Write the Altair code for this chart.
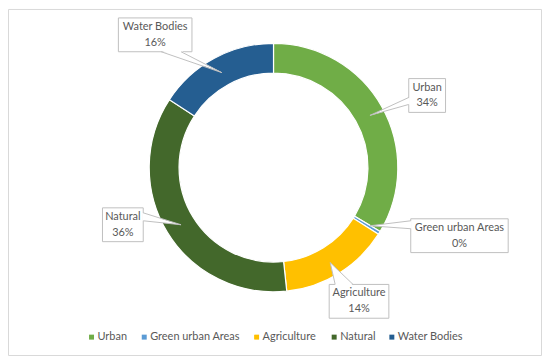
import altair as alt
import pandas as pd

# ---- data ----
categories = ["Urban", "Green urban Areas", "Agriculture", "Natural", "Water Bodies"]
shares = [33.6, 0.4, 14.3, 35.9, 15.8]
colors = ["#70AD47", "#5B9BD5", "#FFC000", "#43682B", "#255E91"]

# ---- label layout (page pixels) ----
O = 8
box_x0 = [411, 413, 331, 103, 119]
box_x1 = [448, 511, 391, 144, 193]
box_y0 = [78, 219, 285, 208, 17]
box_y1 = [112, 253, 319, 242, 51]
tip_x = [372, 372, 332, 182, 223]
tip_y = [115, 226, 263, 225, 72]
base_side = ["left", "left", "top", "right", "bottom"]
base_a = [97, 221, 337, 213, 162]
base_b = [104, 229, 355, 221, 182]
# legend layout (page pixels): marker centers
legend_x = [92, 145, 258, 336, 394]
legend_y = 338

W, H = 537, 349
CX, CY = 275 - O, 167.5 - O
TXT = "#595959"
FONT = "Lato"
FS = 11
LH = 16

pie = pd.DataFrame({"cat": categories, "share": shares, "ord": list(range(len(categories)))})

labels = pd.DataFrame({
    "cat": categories,
    "x0": [v - O for v in box_x0], "x1": [v - O for v in box_x1],
    "y0": [v - O for v in box_y0], "y1": [v - O for v in box_y1],
})
labels["cx"] = (labels.x0 + labels.x1) / 2
labels["cy"] = (labels.y0 + labels.y1) / 2 - LH / 2
labels["txt"] = [f"{c}\n{round(s):.0f}%" for c, s in zip(categories, shares)]

vert_rows, horiz_rows, rule_rows = [], [], []
for i, c in enumerate(categories):
    tx, ty = tip_x[i] - O, tip_y[i] - O
    a, b = base_a[i] - O, base_b[i] - O
    side = base_side[i]
    if side in ("left", "right"):
        edge = (box_x0[i] if side == "left" else box_x1[i]) - O
        inner = edge + (1 if side == "left" else -1)
        vert_rows += [{"g": c, "x": tx, "y": ty, "y2": ty}, {"g": c, "x": inner, "y": a, "y2": b}]
        rule_rows += [{"x": tx, "y": ty, "x2": edge, "y2": a}, {"x": tx, "y": ty, "x2": edge, "y2": b}]
    else:
        edge = (box_y0[i] if side == "top" else box_y1[i]) - O
        inner = edge + (1 if side == "top" else -1)
        horiz_rows += [{"g": c, "y": ty, "x": tx, "x2": tx}, {"g": c, "y": inner, "x": a, "x2": b}]
        rule_rows += [{"x": tx, "y": ty, "x2": a, "y2": edge}, {"x": tx, "y": ty, "x2": b, "y2": edge}]

vert = pd.DataFrame(vert_rows)
horiz = pd.DataFrame(horiz_rows)
rules = pd.DataFrame(rule_rows)
leg = pd.DataFrame({"cat": categories, "lx": [v - O for v in legend_x], "ly": [legend_y - O] * len(categories)})
leg["tx"] = leg.lx + 6

px = lambda f: alt.X(f, type="quantitative", scale=None, axis=None)
py = lambda f: alt.Y(f, type="quantitative", scale=None, axis=None)
cscale = alt.Scale(domain=categories, range=colors)

arcs = alt.Chart(pie).mark_arc(outerRadius=125, innerRadius=95, stroke="white", strokeWidth=1.2).encode(
    theta=alt.Theta("share:Q", stack=True),
    order=alt.Order("ord:Q"),
    color=alt.Color("cat:N", sort=categories, scale=cscale, legend=None),
    x=alt.value(CX), y=alt.value(CY),
)

boxes = alt.Chart(labels).mark_rect(fill="white", stroke="#BFBFBF", strokeWidth=1).encode(
    x=px("x0"), x2="x1", y=py("y0"), y2="y1")

tri_v = alt.Chart(vert).mark_area(fill="white", orient="vertical").encode(
    x=px("x"), y=py("y"), y2="y2", detail="g:N")
tri_h = alt.Chart(horiz).mark_area(fill="white", orient="horizontal").encode(
    y=py("y"), x=px("x"), x2="x2", detail="g:N")

ptr = alt.Chart(rules).mark_rule(color="#BFBFBF", strokeWidth=1).encode(
    x=px("x"), y=py("y"), x2="x2", y2="y2")

texts = alt.Chart(labels).mark_text(font=FONT, fontSize=FS, color=TXT, align="center",
                                    baseline="middle", lineBreak="\n", lineHeight=LH).encode(
    x=px("cx"), y=py("cy"), text="txt:N")

leg_sym = alt.Chart(leg).mark_square(size=25, opacity=1).encode(
    x=px("lx"), y=py("ly"),
    color=alt.Color("cat:N", scale=cscale, legend=None))
leg_txt = alt.Chart(leg).mark_text(font=FONT, fontSize=FS, color=TXT, align="left", baseline="middle").encode(
    x=px("tx"), y=py("ly"), text="cat:N")

frame = alt.Chart(pd.DataFrame({"a": [0]})).mark_rect(fill=None, stroke="#D9D9D9", strokeWidth=1).encode(
    x=alt.value(0.5), x2=alt.value(W - 0.5), y=alt.value(0.5), y2=alt.value(H - 0.5))

chart = alt.layer(arcs, boxes, tri_v, tri_h, ptr, texts, leg_sym, leg_txt, frame).properties(
    width=W, height=H, padding=0, autosize=alt.AutoSizeParams(type="none"),
    background="white",
).configure_view(stroke=None)

chart.save("out.html", embed_options={"renderer": "svg", "actions": False})
